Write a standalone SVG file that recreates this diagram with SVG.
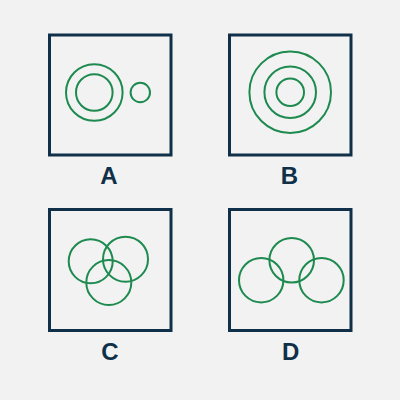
<svg xmlns="http://www.w3.org/2000/svg" width="400" height="400" viewBox="0 0 400 400">
<style>
.box{fill:none;stroke:#0f3048;stroke-width:3}
.c{fill:none;stroke:#1d8a4f;stroke-width:2}
.lbl{font-family:"Liberation Sans",Arial,sans-serif;font-weight:bold;font-size:24px;fill:#0f3048;text-anchor:middle}
</style>
<rect width="400" height="400" fill="#f2f2f2"/>
<g id="A">
<rect class="box" x="49.5" y="35" width="121.5" height="120"/>
<circle class="c" cx="94.3" cy="92.5" r="28.3"/>
<circle class="c" cx="94.3" cy="92.5" r="18.3"/>
<circle class="c" cx="140.3" cy="92.5" r="9.7"/>
<text class="lbl" x="109" y="184">A</text>
</g>
<g id="B">
<rect class="box" x="229.5" y="35" width="121.5" height="120"/>
<circle class="c" cx="290.2" cy="92.2" r="40.8"/>
<circle class="c" cx="290.2" cy="92.2" r="25.8"/>
<circle class="c" cx="290.2" cy="92.2" r="13.8"/>
<text class="lbl" x="289.5" y="184">B</text>
</g>
<g id="C">
<rect class="box" x="49.5" y="209.5" width="121.5" height="121"/>
<circle class="c" cx="90.7" cy="261.3" r="22"/>
<circle class="c" cx="125.5" cy="259.2" r="22.5"/>
<circle class="c" cx="108.8" cy="282.5" r="22.5"/>
<text class="lbl" x="110" y="360">C</text>
</g>
<g id="D">
<rect class="box" x="229.5" y="209.5" width="121.5" height="121"/>
<circle class="c" cx="261.2" cy="280.2" r="22.2"/>
<circle class="c" cx="291.7" cy="260.2" r="22.3"/>
<circle class="c" cx="321.5" cy="280.2" r="22.2"/>
<text class="lbl" x="290.7" y="360">D</text>
</g>
<g id="connectors"/>
</svg>
